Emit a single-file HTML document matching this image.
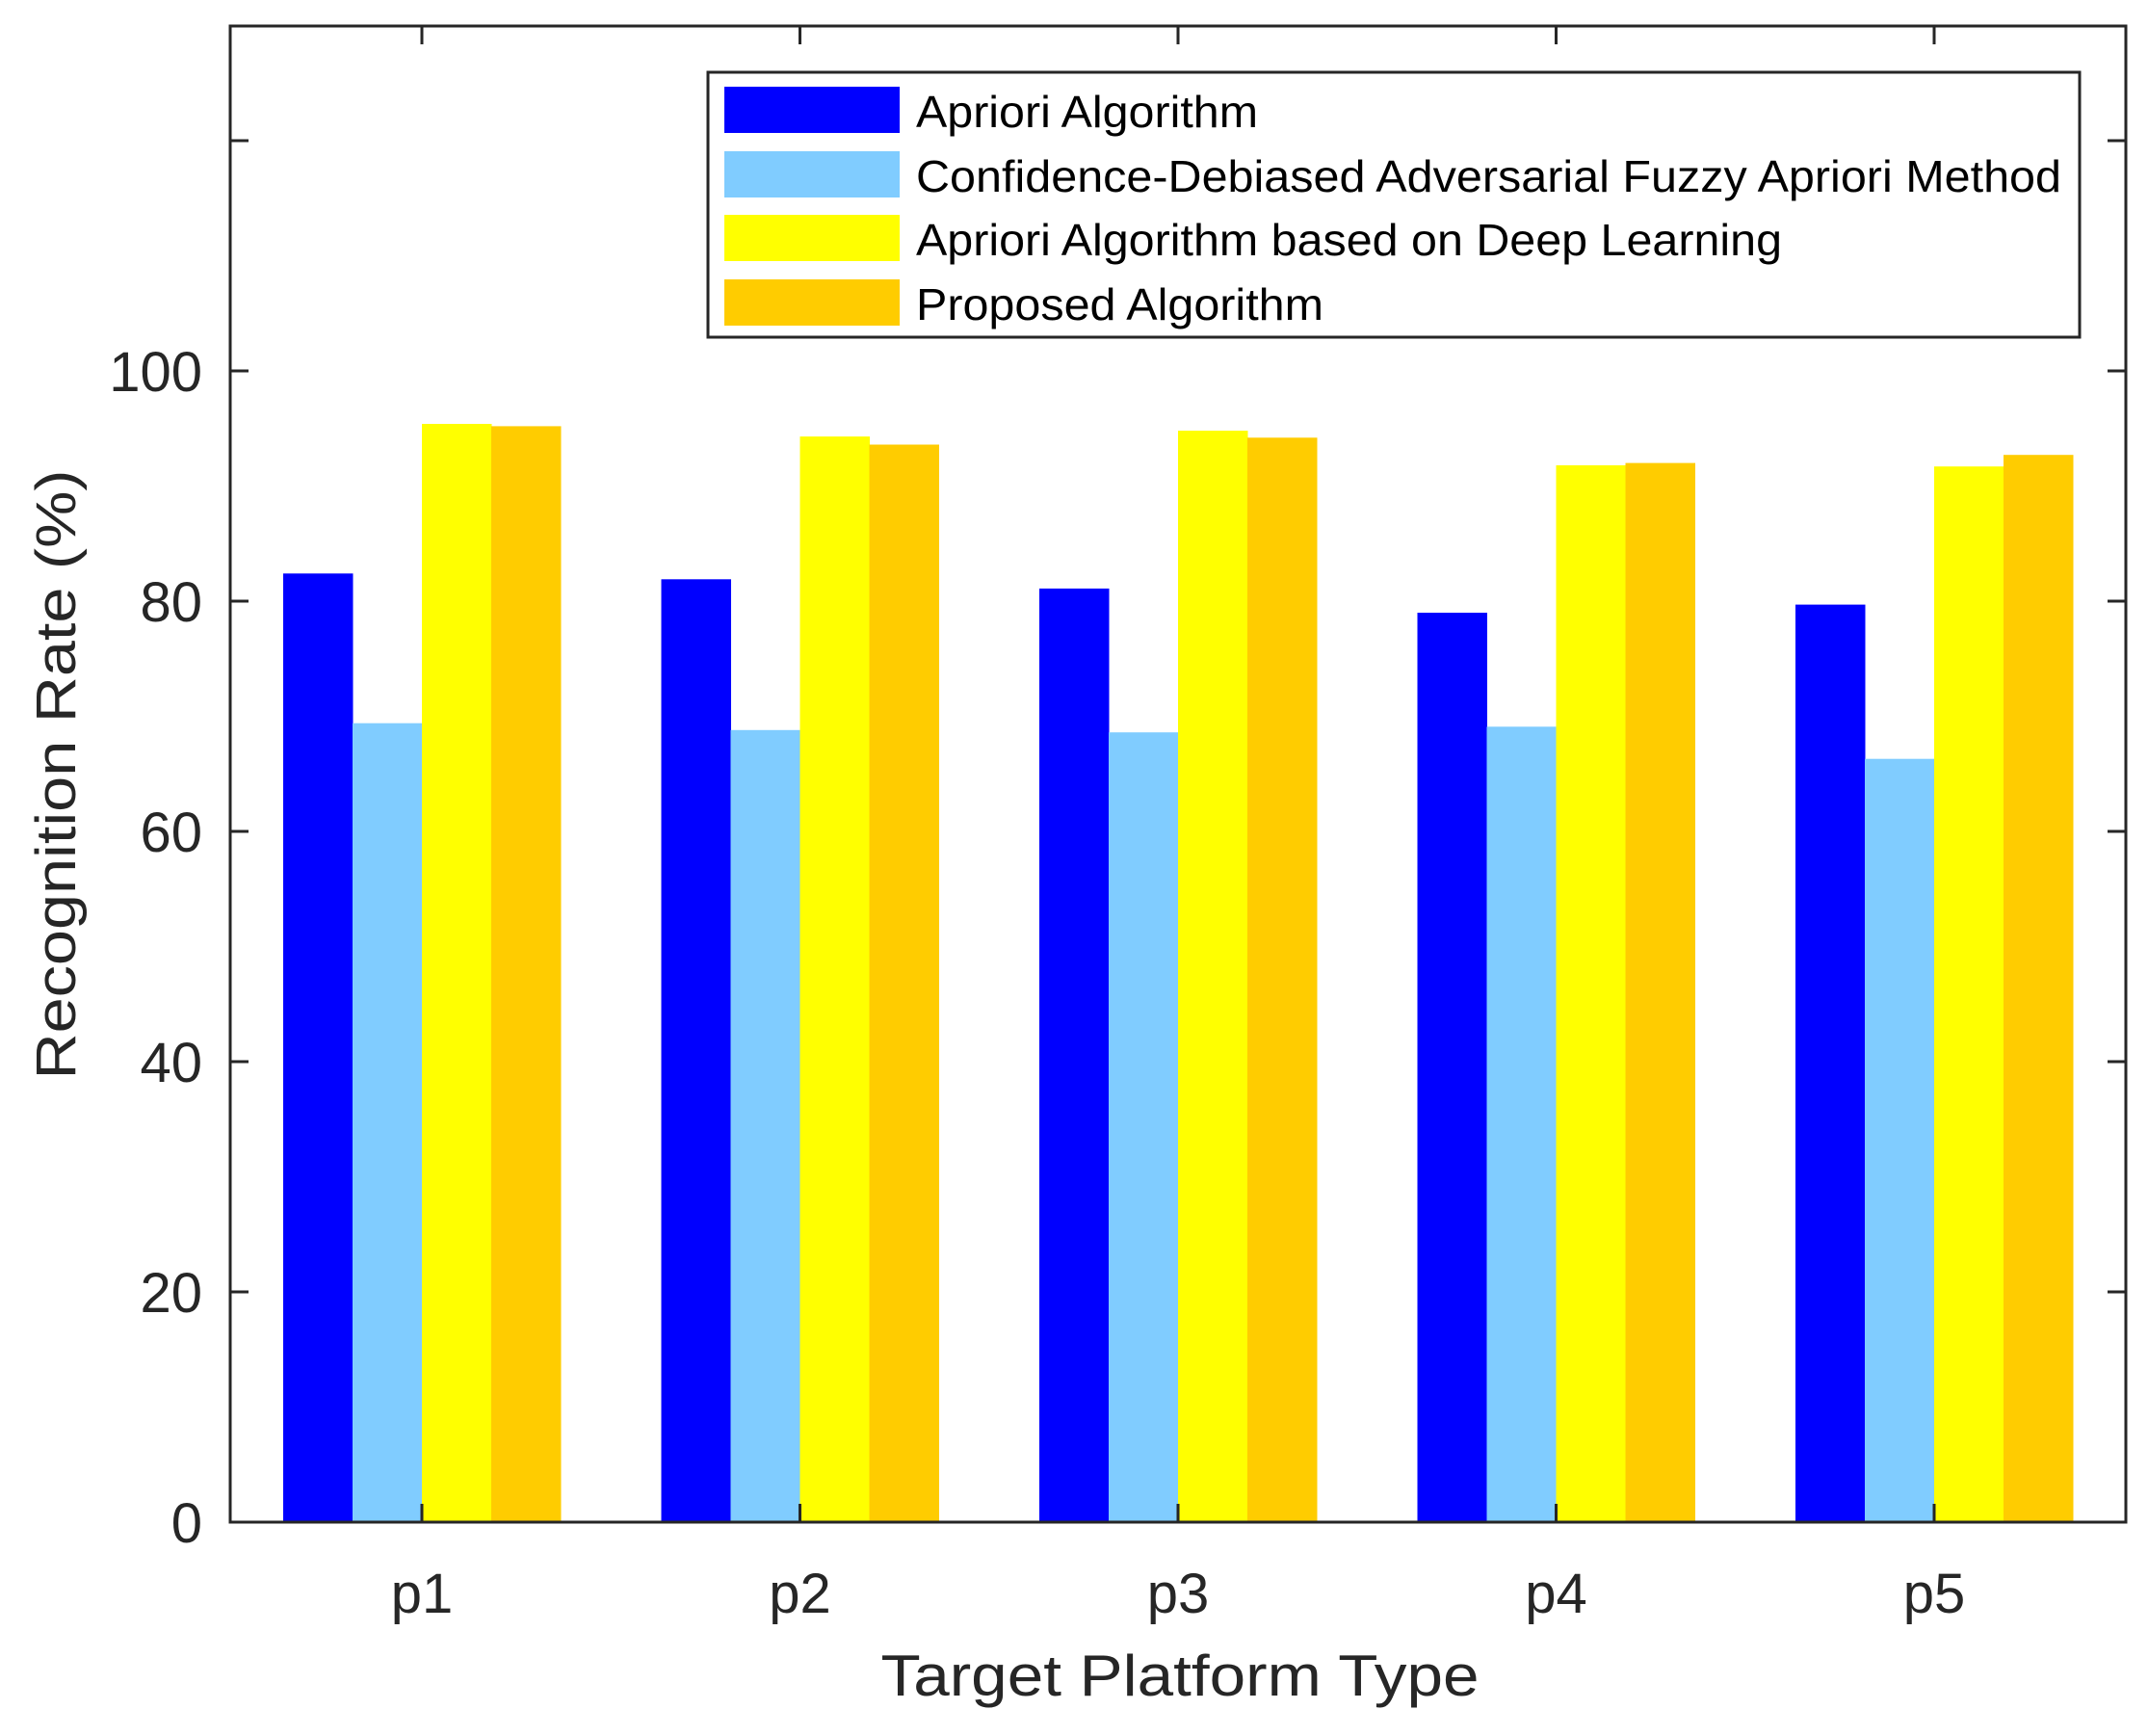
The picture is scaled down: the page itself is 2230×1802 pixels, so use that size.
<!DOCTYPE html>
<html><head><meta charset="utf-8"><style>html,body{margin:0;padding:0;background:#fff}</style></head>
<body>
<svg width="2230" height="1797" viewBox="0 0 2230 1797" xmlns="http://www.w3.org/2000/svg" font-family="Liberation Sans, Arial, sans-serif">
<rect width="2230" height="1797" fill="#fff"/>
<g>
<rect x="294" y="595.3" width="72.5" height="984.7" fill="#0000ff"/>
<rect x="366" y="750.7" width="72.5" height="829.3" fill="#80ccff"/>
<rect x="438" y="440" width="72.5" height="1140" fill="#ffff00"/>
<rect x="510" y="442.4" width="72.5" height="1137.6" fill="#ffcc00"/>

<rect x="686.5" y="601.3" width="72.5" height="978.7" fill="#0000ff"/>
<rect x="758.5" y="757.8" width="72.5" height="822.2" fill="#80ccff"/>
<rect x="830.5" y="453.1" width="72.5" height="1126.9" fill="#ffff00"/>
<rect x="902.5" y="461.5" width="72.5" height="1118.5" fill="#ffcc00"/>

<rect x="1079" y="610.9" width="72.5" height="969.1" fill="#0000ff"/>
<rect x="1151" y="760.2" width="72.5" height="819.8" fill="#80ccff"/>
<rect x="1223" y="447.1" width="72.5" height="1132.9" fill="#ffff00"/>
<rect x="1295" y="454.3" width="72.5" height="1125.7" fill="#ffcc00"/>

<rect x="1471.5" y="636" width="72.5" height="944" fill="#0000ff"/>
<rect x="1543.5" y="754.3" width="72.5" height="825.7" fill="#80ccff"/>
<rect x="1615.5" y="483" width="72.5" height="1097" fill="#ffff00"/>
<rect x="1687.5" y="480.6" width="72.5" height="1099.4" fill="#ffcc00"/>

<rect x="1864" y="627.6" width="72.5" height="952.4" fill="#0000ff"/>
<rect x="1936" y="787.7" width="72.5" height="792.3" fill="#80ccff"/>
<rect x="2008" y="484.2" width="72.5" height="1095.8" fill="#ffff00"/>
<rect x="2080" y="472.2" width="72.5" height="1107.8" fill="#ffcc00"/>
</g>
<g stroke="#262626" stroke-width="3" fill="none">
<rect x="239" y="27" width="1968" height="1553"/>
<path d="M239 1341h19M239 1102h19M239 863h19M239 624h19M239 385h19M239 146h19
M2207 1341h-19M2207 1102h-19M2207 863h-19M2207 624h-19M2207 385h-19M2207 146h-19
M438 1580v-19M830.5 1580v-19M1223 1580v-19M1615.5 1580v-19M2008 1580v-19
M438 27v19M830.5 27v19M1223 27v19M1615.5 27v19M2008 27v19"/>
</g>
<g font-size="58" fill="#262626" text-anchor="end">
<text x="210" y="1601">0</text><text x="210" y="1362">20</text><text x="210" y="1123">40</text>
<text x="210" y="884">60</text><text x="210" y="645">80</text><text x="210" y="406">100</text>
</g>
<g font-size="58" fill="#262626" text-anchor="middle">
<text x="438" y="1674">p1</text><text x="830.5" y="1674">p2</text><text x="1223" y="1674">p3</text><text x="1615.5" y="1674">p4</text><text x="2008" y="1674">p5</text>
</g>
<text x="1225" y="1760" font-size="60" fill="#262626" text-anchor="middle" textLength="621" lengthAdjust="spacingAndGlyphs">Target Platform Type</text>
<text transform="translate(78,804) rotate(-90)" font-size="58" fill="#262626" text-anchor="middle" textLength="633" lengthAdjust="spacingAndGlyphs">Recognition Rate (%)</text>
<rect x="735" y="75" width="1424" height="275" fill="#fff" stroke="#262626" stroke-width="3"/>
<rect x="752" y="90" width="182" height="48" fill="#0000ff"/>
<rect x="752" y="157" width="182" height="48" fill="#80ccff"/>
<rect x="752" y="223" width="182" height="48" fill="#ffff00"/>
<rect x="752" y="290" width="182" height="48" fill="#ffcc00"/>
<g font-size="46" fill="#000">
<text x="951" y="132" textLength="355" lengthAdjust="spacingAndGlyphs">Apriori Algorithm</text>
<text x="951" y="199" textLength="1189" lengthAdjust="spacingAndGlyphs">Confidence-Debiased Adversarial Fuzzy Apriori Method</text>
<text x="951" y="265" textLength="899" lengthAdjust="spacingAndGlyphs">Apriori Algorithm based on Deep Learning</text>
<text x="951" y="332" textLength="423" lengthAdjust="spacingAndGlyphs">Proposed Algorithm</text>
</g>
</svg>
</body></html>
